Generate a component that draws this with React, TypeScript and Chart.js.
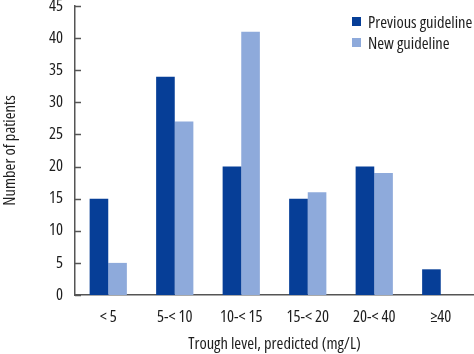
import React, { useEffect, useRef } from "react";
import { Chart, registerables } from "chart.js";

Chart.register(...registerables);

const categories = ["< 5", "5-< 10", "10-< 15", "15-< 20", "20-< 40", "≥40"];
const previousGuideline = [15, 34, 20, 15, 20, 4];
const newGuideline = [5, 27, 41, 16, 19, 0];
const seriesNames = ["Previous guideline", "New guideline"];
const yTicks = { min: 0, max: 45, step: 5 };

const DARK = "#063e97";
const LIGHT = "#8eaadb";
const AXIS = "#555555";
const TEXT = "#1e1e1e";
const FONT = "'Open Sans', sans-serif";
const WEIGHT = "500 condensed";

const innerTicks = {
  id: "innerTicks",
  afterDatasetsDraw(chart: any) {
    const y = chart.scales.y;
    const ctx = chart.ctx;
    ctx.save();
    ctx.strokeStyle = AXIS;
    ctx.lineWidth = 1.5;
    for (let v = yTicks.min; v <= yTicks.max; v += yTicks.step) {
      const py = Math.round(y.getPixelForValue(v)) + 0.5;
      ctx.beginPath();
      ctx.moveTo(chart.chartArea.left, py);
      ctx.lineTo(chart.chartArea.left + 6, py);
      ctx.stroke();
    }
    ctx.restore();
  },
};

export default function App() {
  const ref = useRef<HTMLCanvasElement>(null);
  useEffect(() => {
    if (!ref.current) return;
    const font = { family: FONT, size: 16.5, weight: WEIGHT as any };
    const chart = new Chart(ref.current, {
      type: "bar",
      data: {
        labels: categories,
        datasets: [
          { label: seriesNames[0], data: previousGuideline, backgroundColor: DARK },
          { label: seriesNames[1], data: newGuideline, backgroundColor: LIGHT },
        ],
      },
      plugins: [innerTicks],
      options: {
        animation: false,
        responsive: true,
        maintainAspectRatio: false,
        layout: { padding: { top: 6, right: 0, left: 0, bottom: 0 } },
        plugins: { legend: { display: false }, tooltip: { enabled: false } },
        datasets: { bar: { barPercentage: 1, categoryPercentage: 0.56 } },
        scales: {
          x: {
            grid: { display: false, drawTicks: false },
            border: { display: true, color: AXIS, width: 1.5 },
            ticks: { color: TEXT, font, padding: 12 },
            title: {
              display: true,
              text: "Trough level, predicted (mg/L)",
              color: TEXT,
              font,
              padding: { top: 0, bottom: 0 },
            },
            afterFit: (s: any) => {
              s.height = 59;
              s.paddingLeft = 0;
              s.paddingRight = 0;
            },
          },
          y: {
            min: yTicks.min,
            max: yTicks.max,
            grid: { display: false, drawTicks: false },
            border: { display: true, color: AXIS, width: 1.5 },
            ticks: { stepSize: yTicks.step, color: TEXT, font, padding: 12 },
            title: {
              display: true,
              text: "Number of patients",
              color: TEXT,
              font,
              padding: { top: 0, bottom: 0 },
            },
            afterFit: (s: any) => {
              s.width = 75;
              s.paddingTop = 0;
              s.paddingBottom = 0;
            },
          },
        },
      },
    });
    return () => chart.destroy();
  }, []);

  const legendRow = (color: string, text: string) => (
    <div style={{ display: "flex", alignItems: "center", height: 21 }}>
      <div style={{ width: 9, height: 9, background: color, marginRight: 7 }} />
      <span
        style={{
          fontFamily: FONT,
          fontStretch: "condensed",
          fontWeight: 500,
          fontSize: 16.5,
          color: TEXT,
          whiteSpace: "nowrap",
        }}
      >
        {text}
      </span>
    </div>
  );

  return (
    <div
      style={{
        position: "fixed",
        left: 0,
        top: 0,
        width: 474,
        height: 354,
        background: "#fff",
        overflow: "hidden",
      }}
    >
      <canvas ref={ref} />
      <div style={{ position: "absolute", left: 352, top: 11 }}>
        {legendRow(DARK, seriesNames[0])}
        {legendRow(LIGHT, seriesNames[1])}
      </div>
    </div>
  );
}
